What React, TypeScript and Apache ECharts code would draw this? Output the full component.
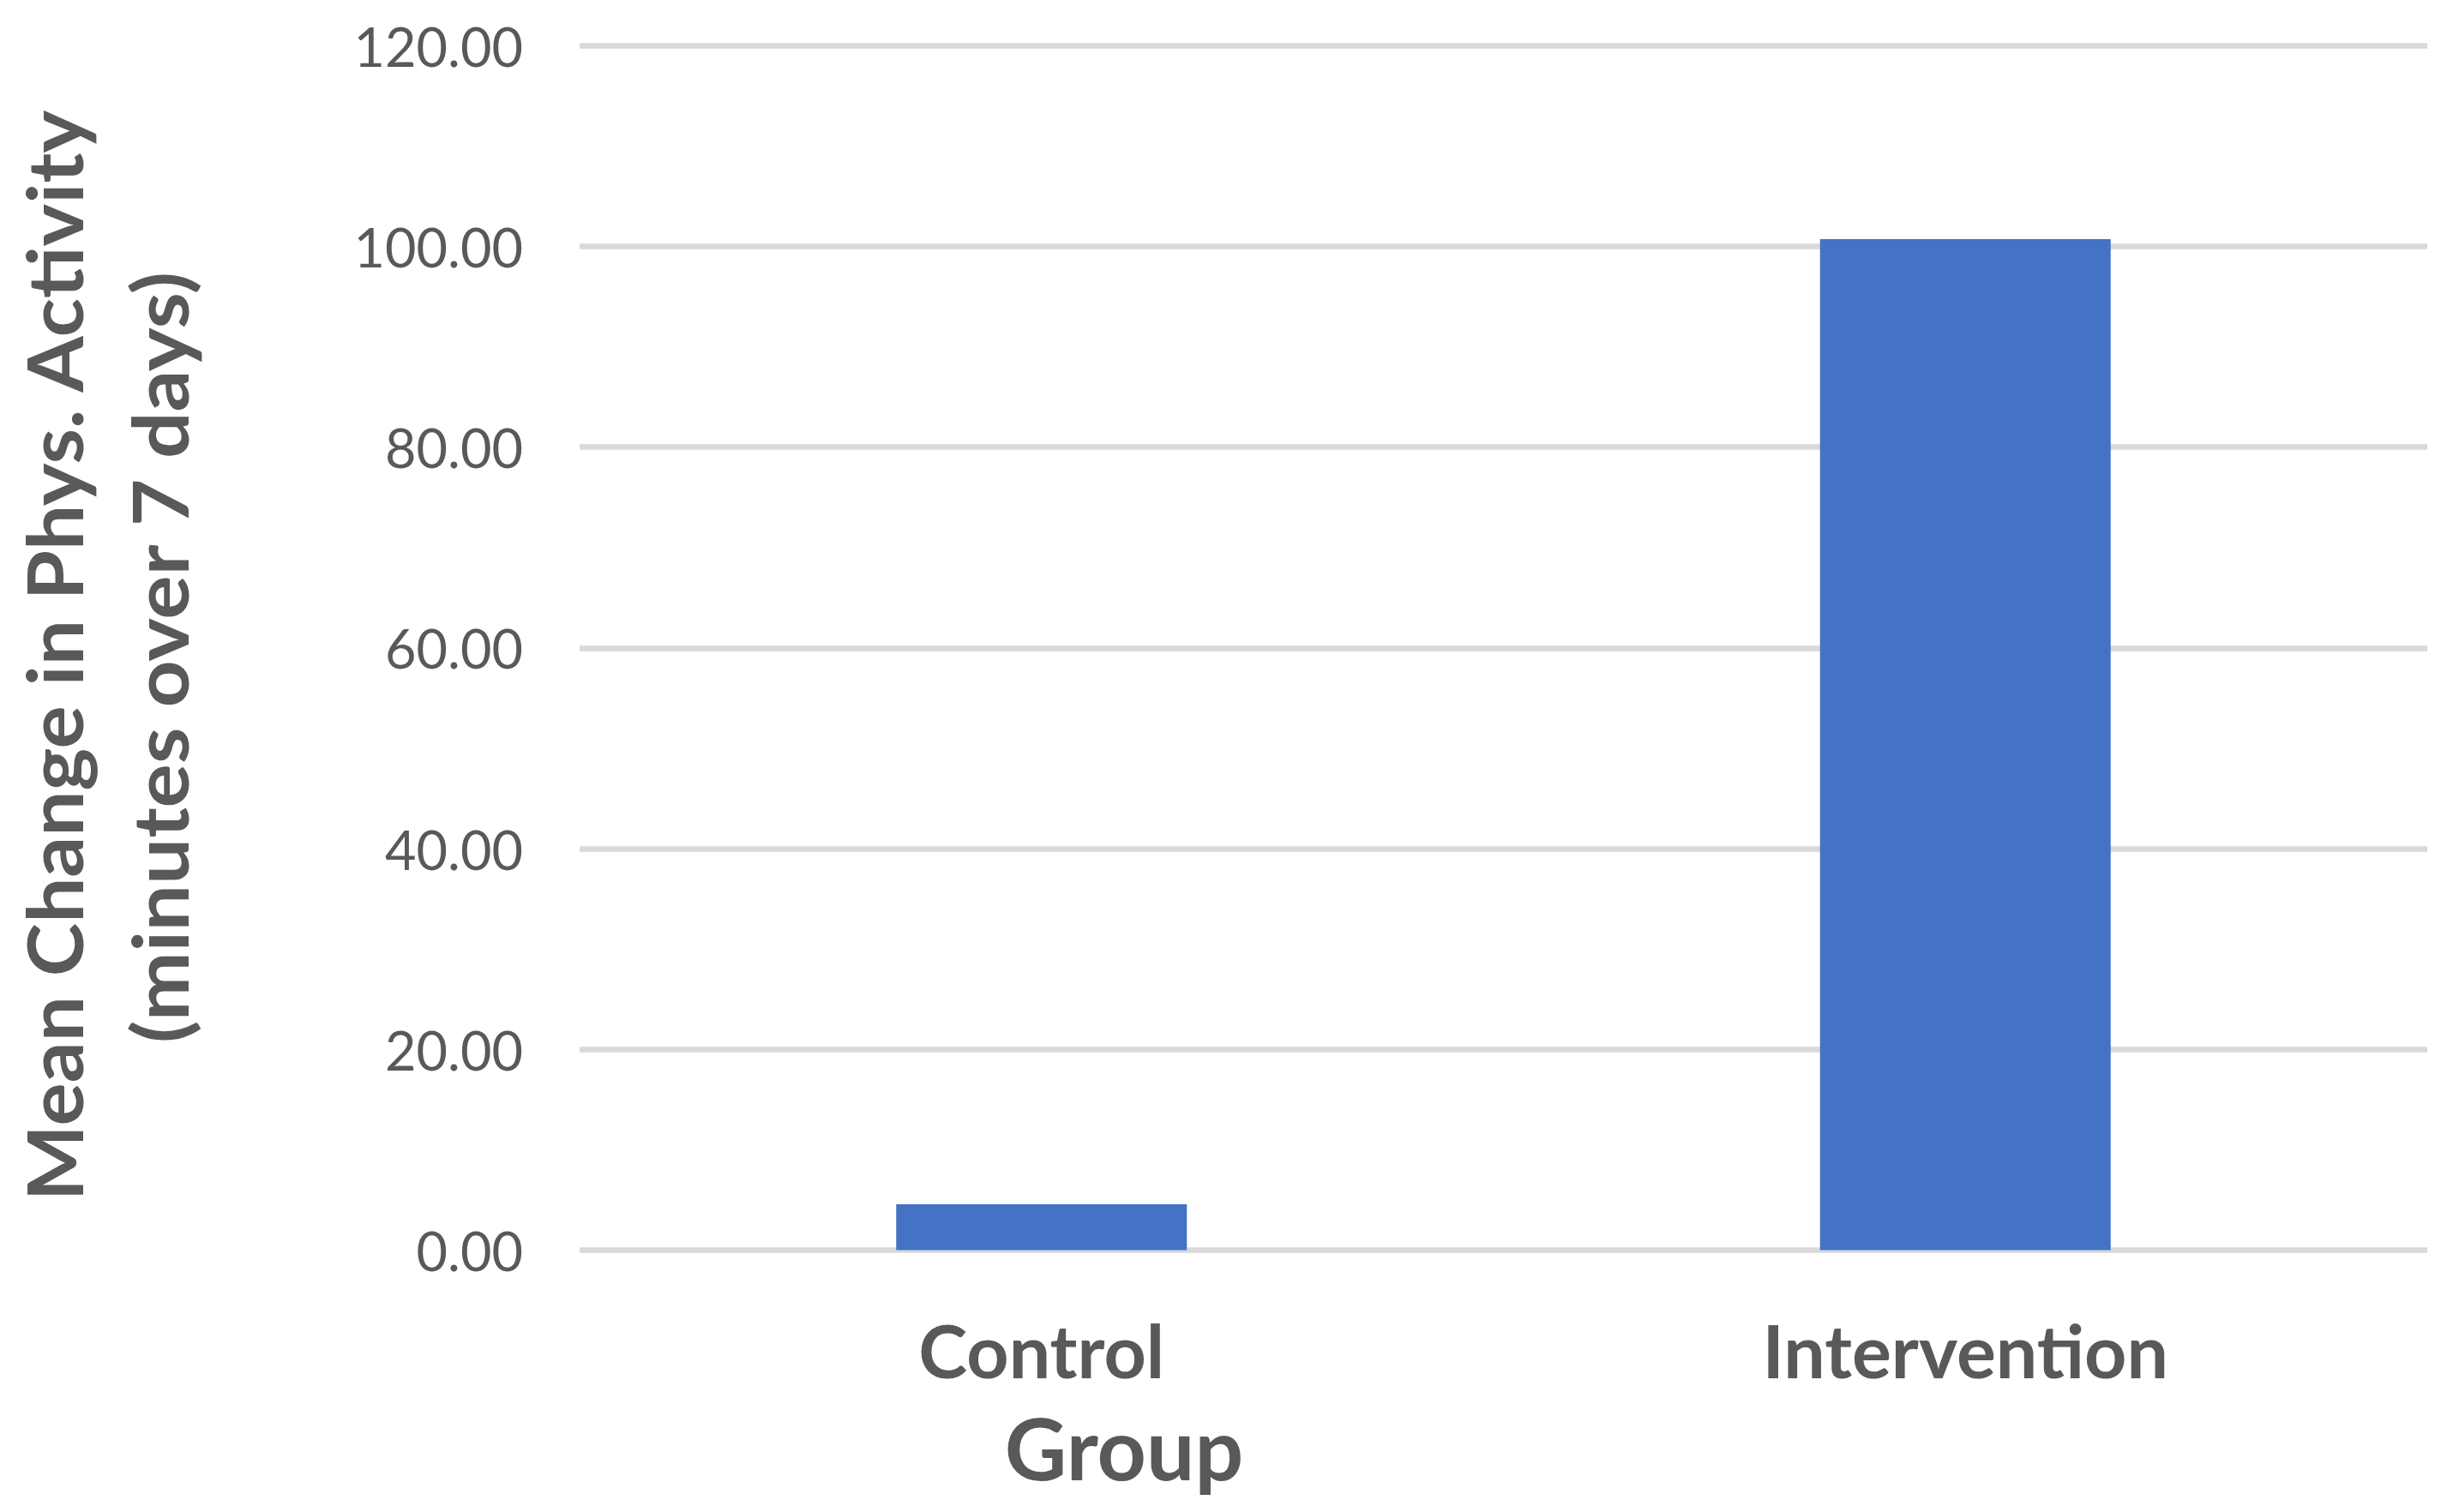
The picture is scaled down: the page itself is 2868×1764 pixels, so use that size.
import React, { useEffect, useRef } from "react";
import * as echarts from "echarts";

const categories = ["Control", "Intervention"];
const meanChange = [4.57, 100.7];
const yTicks = { min: 0, max: 120, interval: 20 };
const yTitleLines = ["Mean Change in Phys. Activity", "(minutes over 7 days)"];
const xTitle = "Group";

export default function App() {
  const ref = useRef<HTMLDivElement>(null);
  useEffect(() => {
    document.body.style.margin = "0";
    const chart = echarts.init(ref.current!, null, { renderer: "svg" });
    const textColor = "#595959";
    chart.setOption({
      animation: false,
      backgroundColor: "#ffffff",
      grid: { left: 676, right: 37, top: 53, bottom: 305.5, containLabel: false },
      xAxis: {
        type: "category",
        data: categories,
        axisLine: { show: false },
        axisTick: { show: false },
        axisLabel: {
          margin: 73,
          color: textColor,
          fontFamily: "Lato",
          fontWeight: "bold",
          fontSize: 86,
          lineHeight: 86,
        },
      },
      yAxis: {
        type: "value",
        min: yTicks.min,
        max: yTicks.max,
        interval: yTicks.interval,
        axisLine: { show: false },
        axisTick: { show: false },
        splitLine: { show: true, lineStyle: { color: "#D9D9D9", width: 6.5 } },
        axisLabel: {
          margin: 66,
          color: textColor,
          fontFamily: "Lato",
          fontSize: 63,
          formatter: (v: number) => v.toFixed(2),
        },
      },
      series: [
        {
          type: "bar",
          data: meanChange,
          barWidth: 339,
          itemStyle: { color: "#4472C4" },
        },
      ],
      graphic: [
        {
          type: "text",
          x: 63,
          y: 765,
          rotation: Math.PI / 2,
          scaleX: 1.06,
          style: {
            text: yTitleLines[0],
            fill: textColor,
            font: "bold 89px Lato",
            align: "center",
            verticalAlign: "middle",
          },
        },
        {
          type: "text",
          x: 186,
          y: 767,
          rotation: Math.PI / 2,
          scaleX: 1.08,
          style: {
            text: yTitleLines[1],
            fill: textColor,
            font: "bold 89px Lato",
            align: "center",
            verticalAlign: "middle",
          },
        },
        {
          type: "text",
          x: 1311,
          y: 1688,
          style: {
            text: xTitle,
            fill: textColor,
            font: "bold 100px Lato",
            align: "center",
            verticalAlign: "middle",
          },
        },
      ],
    });
    return () => chart.dispose();
  }, []);
  return (
    <div
      ref={ref}
      style={{ position: "fixed", left: 0, top: 0, width: 2868, height: 1764 }}
    />
  );
}
